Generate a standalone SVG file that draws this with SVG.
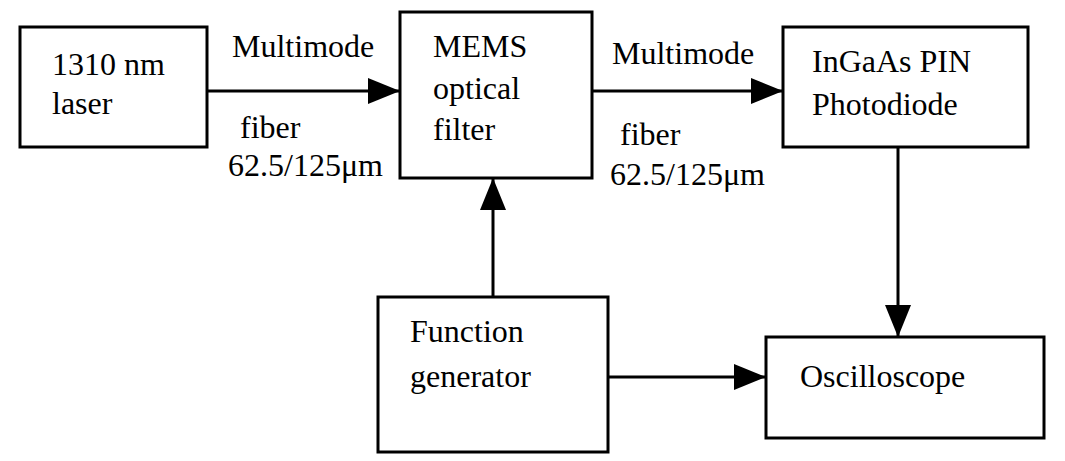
<svg xmlns="http://www.w3.org/2000/svg" width="1065" height="461" viewBox="0 0 1065 461">
<style>
.b{fill:#fff;stroke:#000;stroke-width:3}
.c{stroke:#000;stroke-width:3;fill:none}
text{font-family:"Liberation Serif",serif;font-size:32px;fill:#000}
</style>
<defs>
<marker id="h" viewBox="0 0 32 26" refX="32" refY="13" markerWidth="32" markerHeight="26" markerUnits="userSpaceOnUse" orient="auto"><path d="M0,0L32,13L0,26z"/></marker></defs>
<rect width="1065" height="461" fill="#fff"/>
<g id="connectors">
<line class="c" x1="207" y1="91" x2="400" y2="91" marker-end="url(#h)"/>
<line class="c" x1="592" y1="91" x2="783" y2="91" marker-end="url(#h)"/>
<line class="c" x1="493" y1="297" x2="493" y2="178" marker-end="url(#h)"/>
<line class="c" x1="898" y1="147" x2="898" y2="337" marker-end="url(#h)"/>
<line class="c" x1="608" y1="377" x2="766" y2="377" marker-end="url(#h)"/>
<text x="232" y="57">Multimode</text>
<text x="240" y="138">fiber</text>
<text x="228" y="176">62.5/125μm</text>
<text x="612" y="64">Multimode</text>
<text x="620" y="145">fiber</text>
<text x="610" y="185">62.5/125μm</text>
</g>
<g id="laser"><rect class="b" x="20" y="27" width="187" height="120"/><text x="52" y="75">1310 nm</text><text x="52" y="114">laser</text></g>
<g id="mems"><rect class="b" x="400" y="12" width="192" height="166"/><text x="433" y="57">MEMS</text><text x="433" y="99">optical</text><text x="433" y="140">filter</text></g>
<g id="pin"><rect class="b" x="783" y="27" width="245" height="120"/><text x="812" y="72">InGaAs PIN</text><text x="812" y="115">Photodiode</text></g>
<g id="fg"><rect class="b" x="378" y="297" width="230" height="155"/><text x="410" y="342">Function</text><text x="410" y="387">generator</text></g>
<g id="osc"><rect class="b" x="766" y="337" width="278" height="101"/><text x="800" y="387">Oscilloscope</text></g>
</svg>
